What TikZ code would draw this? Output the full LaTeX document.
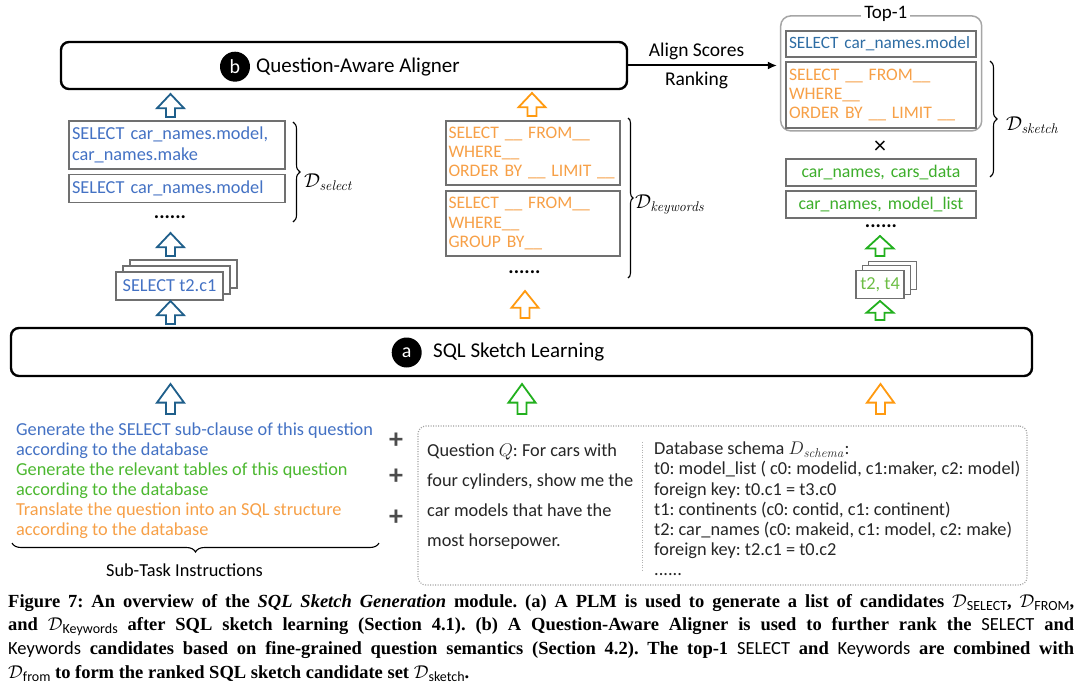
\documentclass[tikz,border=0pt]{standalone}
\usepackage{fix-cm}
\usepackage[no-math]{fontspec}
\setmainfont{Carlito}
\newfontfamily\capfont{Liberation Serif}
\newfontfamily\capsans{Carlito}
\usetikzlibrary{decorations.pathreplacing,arrows.meta}
\definecolor{cblue}{HTML}{4472C4}
\definecolor{cdblue}{HTML}{2E6DA4}
\definecolor{abl}{HTML}{1F5F8B}
\definecolor{corg}{HTML}{F7A047}
\definecolor{aorg}{HTML}{FF9A10}
\definecolor{cgrn}{HTML}{3DAE2B}
\definecolor{cgrnb}{HTML}{4CB830}
\definecolor{agrn}{HTML}{22B01E}
\definecolor{cyg}{HTML}{6DBE45}
\definecolor{bgray}{HTML}{707070}
\newcommand\capD[1]{$\mathcal{D}$\raisebox{-0.35ex}{\capsans\mdseries\fontsize{14}{14}\selectfont #1}}
\newcommand\uu{\_\_}
\frenchspacing
\tikzset{
  cbox/.style={draw=bgray, line width=1.1pt, inner xsep=3pt, inner ysep=0pt, font=\fontsize{18.3}{21}\selectfont, align=left},
  obox/.style={cbox, text=corg, font=\fontsize{17.6}{19.2}\selectfont},
  stk/.style={draw=bgray, fill=white, line width=1.1pt, inner sep=0pt, font=\fontsize{18.3}{21}\selectfont},
  bigbox/.style={draw=black, line width=2.4pt, rounded corners=8pt},
  badge/.style={circle, fill=black, text=white, minimum size=30pt, inner sep=0pt, font=\fontsize{20}{20}\selectfont},
  titletext/.style={font=\fontsize{21}{21}\selectfont, anchor=west, inner sep=0pt},
  lbl/.style={font=\fontsize{19.5}{20}\selectfont, inner sep=0pt},
  dotsrow/.style={font=\bfseries\fontsize{20}{20}\selectfont, inner sep=0pt},
  dlabel/.style={anchor=west, inner sep=0pt, font=\fontsize{20}{24}\selectfont},
  brc/.style={decorate, decoration={brace, amplitude=7pt}, line width=1.1pt},
  uparr/.pic={\draw[pic actions, line width=1.8pt, line join=miter]
     (-4.5,0) -- (-4.5,{-0.38*#1}) -- (-13.5,{-0.38*#1}) -- (0,-#1) -- (13.5,{-0.38*#1}) -- (4.5,{-0.38*#1}) -- (4.5,0) -- cycle;},
}
\begin{document}
\begin{tikzpicture}[x=1pt,y=-1pt]
\useasboundingbox (0,0) rectangle (1080,685);
\fill[white] (0,0) rectangle (1080,685);

% ---- Question-Aware Aligner
\node[bigbox, minimum width=566pt, minimum height=47pt] (b) at (344,65.5) {};
\node[badge] (bb) at (235,66.7) {b};
\node[titletext] (bt) at (256,66.7) {Question-Aware Aligner};

% ---- Top-1 group
\node[draw=gray!70, line width=1.5pt, rounded corners=10pt, minimum width=201pt, minimum height=115pt] (grp) at (881.2,73.4) {};
\node[fill=white, inner xsep=3pt, inner ysep=0pt, font=\fontsize{19}{19}\selectfont] (top) at (885.8,14) {Top-1};
\node[cbox, text=cdblue, minimum width=190pt, minimum height=26pt, text width=184pt, font=\fontsize{17.3}{20}\selectfont] (ts) at (881,44) {\mbox{SELECT car\_names.model}};
\node[obox, minimum width=190pt, minimum height=66pt, text width=184pt] (tk) at (881,95) {\mbox{SELECT \uu{} FROM\uu}\\\mbox{WHERE\uu}\\\mbox{ORDER BY \uu{} LIMIT \uu}};

\draw[line width=2pt, -{Latex[length=9pt,width=8pt]}, shorten >=3pt] (b.east) -- (b.east -| grp.west);
\node[lbl] (as) at (696.5,51.5) {Align Scores};
\node[lbl] (rk) at (696.5,80) {Ranking};

\node[font=\fontsize{24}{24}\selectfont, inner sep=0pt] (times) at (880,147) {×};
\node[cbox, text=cgrn, minimum width=190pt, minimum height=27pt, text width=184pt, align=center, font=\fontsize{17.8}{20}\selectfont] (g1) at (881,172.5) {car\_names, cars\_data};
\node[cbox, text=cgrn, minimum width=190pt, minimum height=27pt, text width=184pt, align=center, font=\fontsize{17.8}{20}\selectfont] (g2) at (881,204.5) {car\_names, model\_list};
\node[dotsrow] (d3) at (881,226) {......};
\draw[brc] (990,61) -- (990,177);
\node[dlabel] (dsk) at (1006,125) {$\mathcal{D}_{\mathit{sketch}}$};

\pic[draw=agrn] at (880,256) {uparr=20};
\node[stk, minimum width=48pt, minimum height=28.5pt] (tb2) at (892.7,275.5) {};
\node[stk, minimum width=48pt, minimum height=28.5pt] (tb1) at (886.3,280) {};
\node[stk, minimum width=48pt, minimum height=28.5pt, text=cyg] (tf) at (880,284.5) {t2, t4};
\pic[draw=agrn] at (880,320) {uparr=19};

% ---- left column
\pic[draw=abl] at (170.5,117) {uparr=23};
\node[cbox, text=cblue, minimum width=216pt, minimum height=48pt, text width=210pt] (s1) at (177,145) {\mbox{SELECT car\_names.model,}\\car\_names.make};
\node[cbox, text=cblue, minimum width=216pt, minimum height=28pt, text width=210pt] (s2) at (177,188.3) {\mbox{SELECT car\_names.model}};
\node[dotsrow] (d1) at (170,217) {......};
\draw[brc] (293,122) -- (293,222);
\node[dlabel] (dsel) at (304,182) {$\mathcal{D}_{\mathit{select}}$};
\pic[draw=abl] at (170.5,256) {uparr=23};
\node[stk, minimum width=107pt, minimum height=28pt] (sb2) at (183.5,274) {};
\node[stk, minimum width=107pt, minimum height=28pt] (sb1) at (176.5,280) {};
\node[stk, minimum width=107pt, minimum height=28pt, text=cblue] (sf) at (169.5,286) {SELECT t2.c1};
\pic[draw=abl] at (170.5,324) {uparr=23};

% ---- middle column
\pic[draw=aorg] at (532,116) {uparr=23};
\node[obox, minimum width=174pt, minimum height=64pt, text width=169pt, inner xsep=2.5pt] (k1) at (533,153) {\mbox{SELECT \uu{} FROM\uu}\\\mbox{WHERE\uu}\\\mbox{ORDER BY \uu{} LIMIT \uu}};
\node[obox, minimum width=174pt, minimum height=65pt, text width=169pt, inner xsep=2.5pt] (k2) at (533,223.5) {\mbox{SELECT \uu{} FROM\uu}\\\mbox{WHERE\uu}\\\mbox{GROUP BY\uu}};
\node[dotsrow] (d2) at (524.5,272.5) {......};
\draw[brc, decoration={brace, amplitude=5pt}] (628,118) -- (628,278);
\node[dlabel] (dkw) at (635,205) {$\mathcal{D}_{\mathit{keywords}}$};
\pic[draw=aorg] at (525,318) {uparr=27};

% ---- SQL Sketch Learning
\node[bigbox, minimum width=1021pt, minimum height=48pt] (a) at (521.5,352) {};
\node[badge] (ab) at (406.7,352.5) {a};
\node[titletext] (at) at (433,352.5) {SQL Sketch Learning};

\pic[draw=abl] at (170.5,414) {uparr=30};
\pic[draw=agrn] at (522,414) {uparr=30};
\pic[draw=aorg] at (880.5,414) {uparr=30};

% ---- instructions
\node[anchor=west, inner sep=0pt, align=left, font=\fontsize{18.3}{20}\selectfont] (ins) at (16,481) {%
\textcolor{cblue}{Generate the SELECT sub-clause of this question}\\
\textcolor{cblue}{according to the database}\\
\textcolor{cgrnb}{Generate the relevant tables of this question}\\
\textcolor{cgrnb}{according to the database}\\
\textcolor{corg}{Translate the question into an SQL structure}\\
\textcolor{corg}{according to the database}};
\draw[brc, decoration={brace, amplitude=9pt}] (379,543) -- (12,543);
\node[inner sep=0pt, font=\fontsize{18.3}{20}\selectfont] (sti) at (184.5,570) {Sub-Task Instructions};
\foreach \i/\yy in {1/440.7, 2/476.7, 3/518} {
  \node[inner sep=0pt, text=black!70, font=\bfseries\fontsize{28}{28}\selectfont] (plus\i) at (396,\yy) {+};
}

% ---- question & schema
\node[draw=gray!75, dash pattern=on 1pt off 1.5pt, line width=1.1pt, rounded corners=8pt, minimum width=609pt, minimum height=159pt] (db) at (722.5,505.5) {};
\draw[gray!60, dash pattern=on 1pt off 1.5pt, line width=1pt] (642.7,442) -- (642.7,570);
\node[anchor=west, inner sep=0pt, align=left, text=black!85, font=\fontsize{18.3}{30}\selectfont] (qt) at (427,496.5) {Question $Q$: For cars with\\four cylinders, show me the\\car models that have the\\most horsepower.};
\node[anchor=west, inner sep=0pt, align=left, text=black!85, font=\fontsize{18.3}{20.2}\selectfont] (sc) at (654,509) {Database schema $D_{\mathit{schema}}$:\\
t0: model\_list ( c0: modelid, c1:maker, c2: model)\\
foreign key: t0.c1 = t3.c0\\
t1: continents (c0: contid, c1: continent)\\
t2: car\_names (c0: makeid, c1: model, c2: make)\\
foreign key: t2.c1 = t0.c2\\
......};

% ---- caption
\node[anchor=north west, inner sep=0pt, text width=1066pt, align=justify, font=\capfont\bfseries\fontsize{18.5}{23.7}\selectfont] (cap) at (8,594) {%
Figure 7: An overview of the \textit{SQL Sketch Generation} module. (a) A PLM is used to generate a list of candidates \capD{SELECT}, \capD{FROM},\linebreak
and \capD{Keywords} after SQL sketch learning (Section 4.1). (b) A Question-Aware Aligner is used to further rank the {\capsans\mdseries SELECT} and\linebreak
{\capsans\mdseries Keywords} candidates based on fine-grained question semantics (Section 4.2). The top-1 {\capsans\mdseries SELECT} and {\capsans\mdseries Keywords} are combined with\linebreak
\capD{from} to form the ranked SQL sketch candidate set \capD{sketch}.};
\end{tikzpicture}
\end{document}
